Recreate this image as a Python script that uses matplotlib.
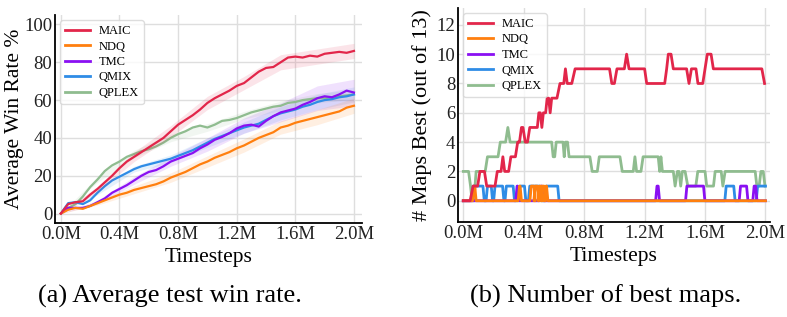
import numpy as np
import matplotlib
matplotlib.use("Agg")
import matplotlib.pyplot as plt

plt.rcParams['font.family'] = ['Liberation Serif', 'DejaVu Serif']

# ---------------- data ----------------
methods = ["MAIC", "NDQ", "TMC", "QMIX", "QPLEX"]
colors = {"MAIC": "#e2264a", "NDQ": "#ff7f0e", "TMC": "#8a10f2",
          "QMIX": "#2f8ce6", "QPLEX": "#8fbc8f"}

# (a) average test win rate, sampled every 0.05M timesteps
steps = np.linspace(0.0, 2.0, 41)   # millions of timesteps
win_MAIC = [0, 5, 6, 6.5, 10, 13, 16.5, 20, 24, 27.5, 30, 32.5, 35, 37.5, 40, 43.5, 47, 49.5, 52, 55,
            58.5, 61, 63, 65, 67.5, 69, 72, 75, 77, 77.5, 80, 82.5, 83, 82.5, 83.5, 83, 84.5, 85, 85.5, 85, 86]
win_NDQ = [0, 2, 3, 2.5, 4, 5.5, 7, 8.5, 10, 11, 12.5, 13.5, 14.5, 15.5, 17, 19, 20.5, 22, 24, 26,
           27.5, 29.5, 31, 32.5, 34.5, 36, 38, 40, 41.5, 43, 45.5, 46.5, 48, 49, 50, 51, 52, 53, 54, 56, 57]
win_TMC = [0, 3, 3, 3, 4, 6, 8, 11, 13, 15, 17.5, 20, 22, 23, 25, 27.5, 29, 30.5, 32, 34.5,
           36.5, 39, 40.5, 42.5, 45, 46.5, 47, 46, 49, 51.5, 53.5, 54.5, 55.5, 57.5, 59, 61, 62, 61.5, 63, 65, 64]
win_QMIX = [0, 5.5, 6, 5, 7, 11, 14.5, 17.5, 19.5, 21.5, 23.5, 25, 26, 27, 28, 29, 30.5, 32, 33.5, 35.5,
            37.5, 39.5, 41, 42.5, 44, 45.5, 46.5, 47.5, 49.5, 51.5, 53, 54, 55, 56.5, 57.5, 59, 60, 60.5, 61.5, 62, 63]
win_QPLEX = [0, 3, 5, 9, 14, 18, 22.5, 25.5, 27.5, 30, 31.5, 33, 34, 35.5, 37.5, 40, 42, 43.5, 45.5, 46.5,
             45.5, 47, 49, 49.5, 50.5, 52, 53.5, 54.5, 55.5, 56.5, 57, 58.5, 59, 60, 60.5, 61, 61, 61.5, 62, 62.5, 63]

# half-width of the shaded band, every 0.25M
band_steps = np.linspace(0.0, 2.0, 9)
sd_MAIC = [0, 1.5, 2.5, 3, 3.5, 3.5, 4, 4, 4]
sd_NDQ = [0, 1, 2, 2.5, 3, 3.5, 3.5, 4, 4]
sd_TMC = [0, 1, 2, 2.5, 3.5, 4, 5, 6.5, 7]
sd_QMIX = [0, 1, 1.5, 2, 2.5, 3, 3.5, 4, 4]
sd_QPLEX = [0, 1.5, 2, 2, 2, 2, 2.5, 2.5, 2.5]

# (b) number of best maps: change points (timestep in M, count)
best_MAIC_t = [0, 0.045, 0.065, 0.095, 0.11, 0.14, 0.155, 0.21, 0.225, 0.25, 0.262, 0.274, 0.30, 0.315, 0.345,
               0.36, 0.372, 0.385, 0.395, 0.41, 0.425, 0.44, 0.49, 0.50, 0.51, 0.52, 0.53, 0.545, 0.555, 0.565,
               0.575, 0.585, 0.62, 0.64, 0.665, 0.676, 0.688, 0.718, 0.74, 0.968, 0.983, 1.0, 1.017, 1.066, 1.081,
               1.097, 1.2, 1.214, 1.333, 1.346, 1.357, 1.375, 1.39, 1.478, 1.494, 1.51, 1.54, 1.553, 1.585, 1.6,
               1.615, 1.64, 1.655, 1.976, 1.994]
best_MAIC_v = [0, 0, 1, 1, 2, 2, 1, 1, 2, 2, 3, 2, 2, 3, 3,
               4, 4, 5, 5, 4, 4, 5, 5, 6, 6, 5, 6, 6, 7, 7,
               6, 7, 7, 8, 8, 9, 8, 8, 9, 9, 8, 8, 9, 9, 10,
               9, 9, 8, 8, 9, 10, 10, 9, 9, 8, 9, 9, 8, 8, 9,
               10, 10, 9, 9, 8]
best_QPLEX_t = [0, 0.035, 0.048, 0.058, 0.07, 0.085, 0.145, 0.16, 0.23, 0.245, 0.28, 0.295, 0.31, 0.585, 0.595,
                0.605, 0.615, 0.66, 0.668, 0.676, 0.69, 0.70, 0.838, 0.853, 0.887, 0.9, 1.037, 1.052, 1.125, 1.136,
                1.147, 1.176, 1.19, 1.29, 1.30, 1.308, 1.318, 1.39, 1.402, 1.417, 1.428, 1.439, 1.45, 1.468, 1.486,
                1.539, 1.552, 1.6, 1.611, 1.656, 1.667, 1.707, 1.718, 1.733, 1.932, 1.943, 1.958, 1.97, 1.985, 1.997]
best_QPLEX_v = [2, 2, 1, 0, 0, 2, 2, 3, 3, 4, 4, 5, 4, 4, 3,
                3, 4, 4, 3, 4, 4, 3, 3, 2, 2, 3, 3, 2, 2, 3,
                2, 2, 3, 3, 2, 3, 2, 2, 1, 2, 2, 1, 2, 2, 1,
                1, 2, 2, 1, 1, 2, 2, 1, 2, 2, 1, 1, 2, 2, 1]
# intervals (start, end in M) where a method is best on one map
best_QMIX_on = [(0.065, 0.13), (0.16, 0.185), (0.21, 0.26), (0.285, 0.33), (0.375, 0.405),
                (0.44, 0.505), (0.55, 0.625), (1.74, 1.79), (1.948, 2.0)]
best_TMC_on = [(0.356, 0.36), (0.516, 0.52), (1.282, 1.29), (1.48, 1.59), (1.835, 1.875), (1.925, 1.935)]
best_NDQ_on = [(0.07, 0.076), (0.372, 0.376), (0.45, 0.468), (0.476, 0.49), (0.505, 0.515),
               (0.523, 0.535), (0.547, 0.551)]

x_ticks = [0.0, 0.4, 0.8, 1.2, 1.6, 2.0]
x_ticklabels = ["0.0M", "0.4M", "0.8M", "1.2M", "1.6M", "2.0M"]


def blocks_line(intervals, ramp=0.009, end=2.0):
    t, v = [0.0], [0]
    for a, b in intervals:
        t += [a - ramp, a]
        v += [0, 1]
        if b >= end:
            t.append(end)
            v.append(1)
            return t, v
        t += [b, b + ramp]
        v += [1, 0]
    t.append(end)
    v.append(0)
    return t, v


win = {"MAIC": win_MAIC, "NDQ": win_NDQ, "TMC": win_TMC, "QMIX": win_QMIX, "QPLEX": win_QPLEX}
sd = {"MAIC": sd_MAIC, "NDQ": sd_NDQ, "TMC": sd_TMC, "QMIX": sd_QMIX, "QPLEX": sd_QPLEX}
best = {"MAIC": (best_MAIC_t, best_MAIC_v),
        "NDQ": blocks_line(best_NDQ_on),
        "TMC": blocks_line(best_TMC_on),
        "QMIX": blocks_line(best_QMIX_on),
        "QPLEX": (best_QPLEX_t, best_QPLEX_v)}
zorders = {"MAIC": 7, "NDQ": 6, "TMC": 5, "QMIX": 4, "QPLEX": 3}

# ---------------- figure ----------------
W, H = 787, 317
fig = plt.figure(figsize=(W / 100, H / 100), dpi=100)
ax1 = fig.add_axes([55 / W, 1 - 223 / H, (362 - 55) / W, (223 - 15) / H])
ax2 = fig.add_axes([458 / W, 1 - 222 / H, (770 - 458) / W, (222 - 8) / H])

for ax in (ax1, ax2):
    ax.set_facecolor("white")
    ax.grid(True, color="#dedede", linewidth=1.0, zorder=0)
    ax.set_axisbelow(True)
    for s in ("top", "right"):
        ax.spines[s].set_visible(False)
    for s in ("left", "bottom"):
        ax.spines[s].set_color("black")
        ax.spines[s].set_linewidth(1.3)
    ax.tick_params(length=0, labelsize=13.5, colors="#222222")
    ax.set_xticks(x_ticks)
    ax.set_xticklabels(x_ticklabels)
    ax.tick_params(axis="x", pad=2.5)
    ax.tick_params(axis="y", pad=2)

# (a)
for m in methods:
    y = np.asarray(win[m])
    mid = y[::5]
    s = np.asarray(sd[m])
    ax1.fill_between(band_steps, mid - s, mid + s, color=colors[m], alpha=0.12,
                     linewidth=0, zorder=zorders[m] - 2)
for m in methods:
    ax1.plot(steps, win[m], color=colors[m], linewidth=1.6, label=m, zorder=zorders[m])
ax1.set_xlim(-0.04, 2.055)
ax1.set_ylim(-5, 105)
ax1.set_yticks([0, 20, 40, 60, 80, 100])
ax1.set_xlabel("Timesteps", fontsize=15.5, labelpad=3)
ax1.set_ylabel("Average Win Rate %", fontsize=15.5, labelpad=0)

# (b)
for m in methods:
    t, v = best[m]
    ax2.plot(t, v, color=colors[m], linewidth=2.0, label=m, zorder=zorders[m])
ax2.set_xlim(-0.035, 2.03)
ax2.set_ylim(-1.45, 13.15)
ax2.set_yticks([0, 2, 4, 6, 8, 10, 12])
ax2.set_xlabel("Timesteps", fontsize=15.5, labelpad=3)
ax2.set_ylabel("# Maps Best (out of 13)", fontsize=16, labelpad=3)

for ax in (ax1, ax2):
    handles, labels = ax.get_legend_handles_labels()
    leg = ax.legend(handles, labels, loc="upper left", fontsize=9, handlelength=2.0,
                    handletextpad=0.7, labelspacing=0.28, borderpad=0.4, borderaxespad=0.4,
                    frameon=True, framealpha=0.8, edgecolor="#d5d5d5", fancybox=True)
    for ln in leg.get_lines():
        ln.set_linewidth(2.0)
    leg.set_zorder(10)

fig.text(170 / W, 1 - 296 / H, "(a) Average test win rate.", ha="center", va="center", fontsize=19)
fig.text(606 / W, 1 - 296 / H, "(b) Number of best maps.", ha="center", va="center", fontsize=19)

fig.savefig("out.png", dpi=100, facecolor="white")
